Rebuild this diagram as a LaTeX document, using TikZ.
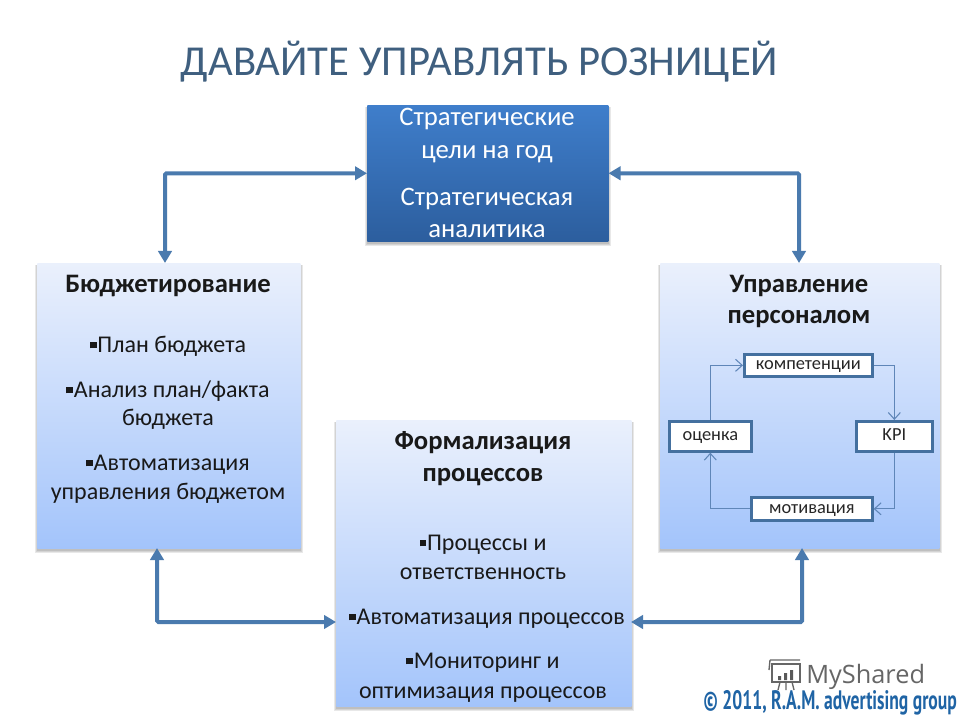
\documentclass[tikz,border=0pt]{standalone}
\usepackage{fontspec}
\setmainfont{Carlito}
\newfontfamily\logofont{Open Sans}
\newfontfamily\ramfont{PT Sans}
\usetikzlibrary{arrows.meta,calc}
\definecolor{titlecol}{HTML}{3F5F7F}
\definecolor{linkcol}{HTML}{4A7AAE}
\definecolor{thincol}{HTML}{5F86B8}
\definecolor{panelTop}{HTML}{EAF0FC}
\definecolor{panelBot}{HTML}{A3C4FB}
\definecolor{goalTop}{HTML}{3F7ECB}
\definecolor{goalBot}{HTML}{2C5E9E}
\definecolor{smallbd}{HTML}{44709F}
\definecolor{ramcol}{HTML}{1F64A5}
\newcommand{\bul}{\raisebox{2.8pt}{\rule{5pt}{5pt}}\hspace{.6pt}}
\newcommand{\softshadow}[1]{%
  \begin{pgfonlayer}{shadowlayer}
    \foreach \e in {2,1,0}{
      \fill[black,opacity=.09]
        ($(#1.north west)+(-\e,2)$) rectangle ($(#1.south east)+(\e,\e+2)$);
    }
  \end{pgfonlayer}}
\pgfdeclarelayer{shadowlayer}
\pgfsetlayers{shadowlayer,main}
\tikzset{
  x=0.75pt,y=-0.75pt,
  panel/.style={rectangle,inner sep=0,top color=panelTop,bottom color=panelBot,anchor=north west},
  goal/.style={rectangle,inner sep=0,top color=goalTop,bottom color=goalBot,anchor=north west},
  txt/.style={anchor=base,inner sep=0,font=\fontsize{18pt}{20pt}\selectfont,text=black!90},
  head/.style={txt,font=\fontsize{20pt}{22pt}\selectfont\bfseries},
  wtxt/.style={txt,text=white,font=\fontsize{20pt}{22pt}\selectfont},
  mini/.style={rectangle,draw=smallbd,line width=2pt,fill=white,inner sep=0,anchor=north west,text height=6.8pt,text depth=0pt,font=\fontsize{13.8pt}{15pt}\selectfont,text=black!85},
  biglink/.style={draw=linkcol,line width=3pt,rounded corners=1pt,{Triangle[length=9pt,width=10pt]}-{Triangle[length=9pt,width=10pt]}},
  thinlink/.style={draw=thincol,line width=.8pt,-{Straight Barb[length=5pt,width=9pt]}},
}
\begin{document}
\begin{tikzpicture}
\useasboundingbox (0,0) rectangle (960,720);
\begin{pgfonlayer}{shadowlayer}
\fill[white] (0,0) rectangle (960,720);
\end{pgfonlayer}

\node[anchor=base,inner sep=0,font=\fontsize{32pt}{35pt}\selectfont,text=titlecol] (title) at (479.5,76) {ДАВАЙТЕ УПРАВЛЯТЬ РОЗНИЦЕЙ};

% boxes
\node[goal,minimum width=180.75pt,minimum height=102pt] (top) at (367,105) {};
\node[panel,minimum width=197.25pt,minimum height=213.75pt] (left) at (37,263) {};
\node[panel,minimum width=209.25pt,minimum height=213.75pt] (right) at (660,263) {};
\node[panel,minimum width=221.25pt,minimum height=214.5pt] (mid) at (336,420) {};
\softshadow{top}\softshadow{left}\softshadow{right}\softshadow{mid}

% top texts
\node[wtxt] (t1) at (487,126) {Стратегические};
\node[wtxt] (t2) at (487,159) {цели на год};
\node[wtxt] (t3) at (487,206) {Стратегическая};
\node[wtxt] (t4) at (487,238) {аналитика};

% left texts
\node[head] (l0) at (168,292) {Бюджетирование};
\node[txt] (l1) at (168,352) {\bul План бюджета};
\node[txt] (l2) at (168,397) {\bul Анализ план/факта};
\node[txt] (l3) at (168,425) {бюджета};
\node[txt] (l4) at (168,470) {\bul Автоматизация};
\node[txt] (l5) at (168,499) {управления бюджетом};

% middle texts
\node[head] (m0) at (483,449) {Формализация};
\node[head] (m1) at (483,481) {процессов};
\node[txt] (m2) at (483,550) {\bul Процессы и};
\node[txt] (m3) at (483,579) {ответственность};
\node[txt] (m4) at (487,624) {\bul Автоматизация процессов};
\node[txt] (m5) at (483,668) {\bul Мониторинг и};
\node[txt] (m6) at (483,698) {оптимизация процессов};

% right texts
\node[head] (r0) at (799,292) {Управление};
\node[head] (r1) at (799,324) {персоналом};

% small cycle
\node[mini,minimum width=96pt,minimum height=16.5pt] (komp) at (743,353) {компетенции};
\node[mini,minimum width=61.5pt,minimum height=22.5pt] (okn) at (668,420) {оценка};
\node[mini,minimum width=57pt,minimum height=22.5pt] (kpi) at (855,420) {KPI};
\node[mini,minimum width=90.75pt,minimum height=17.25pt] (mot) at (750,496) {мотивация};
\draw[thinlink] (okn.north) |- (komp.west);
\draw[thinlink] (komp.east) -| (kpi.north);
\draw[thinlink] (kpi.south) |- (mot.east);
\draw[thinlink] (mot.west) -| (okn.south);

% big connectors
\coordinate (lefttop) at (165,263);
\coordinate (righttop) at (799,263);
\coordinate (leftbot) at (157,548);
\coordinate (rightbot) at (802,548);
\coordinate (midl) at (336,622);
\coordinate (midr) at (631,622);
\draw[biglink] (top.west) -| (lefttop);
\draw[biglink] (top.east) -| (righttop);
\draw[biglink] (leftbot) |- (midl);
\draw[biglink] (rightbot) |- (midr);

% logo
\draw[draw=black!60,line width=1pt,fill=white] (772,664) rectangle (800,682);
\draw[draw=black!60,line width=1pt] (770,660) -- (800,660) (770,660) -- (769,670);
\fill[black!65] (778,676) rectangle (781,680) (784,673) rectangle (787,680) (790,670) rectangle (793,680);
\draw[black!60,line width=1pt] (780,682) -- (778,690) (786,682) -- (786,690) (792,682) -- (794,690);
\node[anchor=base west,inner sep=0,font=\logofont\fontsize{19pt}{22pt}\selectfont,text=black!60] (logo) at (806,683) {MyShared};
\node[anchor=base west,inner sep=0,font=\ramfont\bfseries\fontsize{20pt}{22pt}\selectfont,text=ramcol] (ram) at (703,709) {\scalebox{0.66}[1]{© 2011, R.A.M. advertising group}};
\end{tikzpicture}
\end{document}
